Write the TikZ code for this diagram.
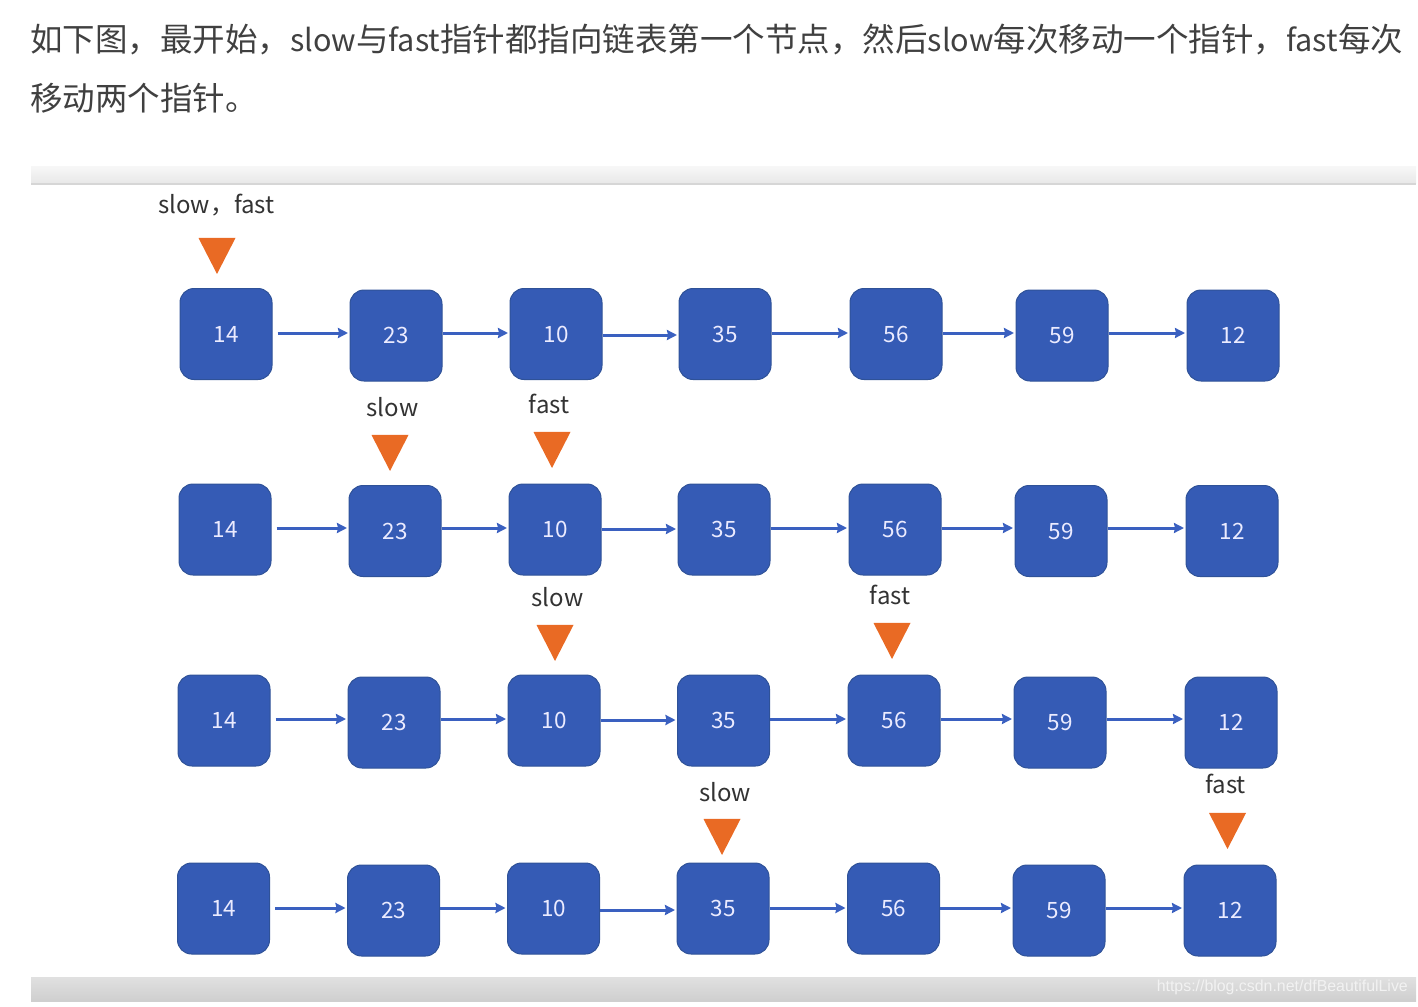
\documentclass[tikz,border=0pt]{standalone}
\usepackage{xcolor}
\usepackage{fontspec}
\setmainfont{Noto Sans CJK SC}
\newfontfamily\markfont{Liberation Sans}
\usetikzlibrary{arrows.meta,shapes.geometric}
\definecolor{boxblue}{HTML}{355BB5}
\definecolor{boxedge}{HTML}{2F5298}
\definecolor{linkblue}{HTML}{3A60C0}
\definecolor{markorange}{HTML}{E96A24}
\newcommand{\latinword}[1]{{\fontsize{30.6}{59}\selectfont #1}}
\tikzset{
	listblock/.style = {
		rectangle,
		minimum width = 92pt,
		minimum height = 91pt,
		inner sep = 0pt,
		rounded corners = 14pt,
		line width = 1pt,
		draw = boxedge,
		fill = boxblue,
		text = white!92!blue,
		font = \fontsize{22.5}{24}\selectfont,
	},
	link/.style = {
		-{Stealth[length = 10pt, width = 10pt, inset = 1pt]},
		line width = 3pt,
		draw = linkblue,
		shorten > = 1.5pt,
	},
	pointer/.style = {
		isosceles triangle,
		isosceles triangle stretches,
		shape border rotate = -90,
		anchor = apex,
		minimum width = 37pt,
		minimum height = 36pt,
		inner sep = 0pt,
		fill = markorange,
	},
	pointerlabel/.style = {
		text = black!80,
		inner sep = 0pt,
		font = \fontsize{24}{28}\selectfont,
	},
}
\begin{document}
\begin{tikzpicture}[x = 1pt, y = -1pt]
	\useasboundingbox (0,0) rectangle (1418,1006);

	\node[anchor = north west, align = left, inner sep = 0pt, text = black!75,
		font = \fontsize{32.5}{59}\selectfont](intro) at (30,24)
		{如下图，最开始，\latinword{slow}与\latinword{fast}指针都指向链表第一个节点，然后\latinword{slow}每次移动一个指针，\latinword{fast}每次\\移动两个指针。};

	% grey bands of the screenshot
	\shade[top color = black!3, bottom color = black!9] (31,166) rectangle (1416,183);
	\fill[black!16] (31,183) rectangle (1416,185);
	\shade[top color = black!12, bottom color = black!19] (31,977) rectangle (1416,1001);
	\node[anchor = east, inner sep = 0pt, text = white!90!gray,
		font = \markfont\fontsize{15.9}{18}\selectfont](watermark) at (1408,987)
		{https://blog.csdn.net/dfBeautifulLive};

	% first row
	\node[listblock](a1) at (226,334){14};
	\node[listblock](a2) at (396,335.5){23};
	\node[listblock](a3) at (556,334){10};
	\node[listblock](a4) at (725,334){35};
	\node[listblock](a5) at (896,334){56};
	\node[listblock](a6) at (1062,335.5){59};
	\node[listblock](a7) at (1233,335.5){12};
	% second row
	\node[listblock](b1) at (225,529.5){14};
	\node[listblock](b2) at (395,531){23};
	\node[listblock](b3) at (555,529.5){10};
	\node[listblock](b4) at (724,529.5){35};
	\node[listblock](b5) at (895,529.5){56};
	\node[listblock](b6) at (1061,531){59};
	\node[listblock](b7) at (1232,531){12};
	% third row
	\node[listblock](c1) at (224,720.5){14};
	\node[listblock](c2) at (394,722.5){23};
	\node[listblock](c3) at (554,720.5){10};
	\node[listblock](c4) at (723.5,720.5){35};
	\node[listblock](c5) at (894,720.5){56};
	\node[listblock](c6) at (1060,722.5){59};
	\node[listblock](c7) at (1231,722.5){12};
	% fourth row
	\node[listblock](d1) at (223.5,908.5){14};
	\node[listblock](d2) at (393.5,910.5){23};
	\node[listblock](d3) at (553.5,908.5){10};
	\node[listblock](d4) at (723,908.5){35};
	\node[listblock](d5) at (893.5,908.5){56};
	\node[listblock](d6) at (1059,910.5){59};
	\node[listblock](d7) at (1230,910.5){12};

	\foreach \row/\ylink/\ymid in {a/333/335, b/528/529, c/719/720, d/908/910}{
		\draw[link, shorten < = 5pt](\row1.east |- 0,\ylink)--(\row2.west |- 0,\ylink);
		\draw[link](\row2.east |- 0,\ylink)--(\row3.west |- 0,\ylink);
		\draw[link](\row3.east |- 0,\ymid)--(\row4.west |- 0,\ymid);
		\draw[link](\row4.east |- 0,\ylink)--(\row5.west |- 0,\ylink);
		\draw[link](\row5.east |- 0,\ylink)--(\row6.west |- 0,\ylink);
		\draw[link](\row6.east |- 0,\ylink)--(\row7.west |- 0,\ylink);
	}

	\node[pointerlabel](both) at (216.5,205){slow，fast};
	\node[pointer](bothmark) at (217,274.5){};

	\node[pointerlabel](slowb) at (392.5,407){slow};
	\node[pointer](slowbmark) at (390,471.5){};
	\node[pointerlabel](fastb) at (549,404){fast};
	\node[pointer](fastbmark) at (552,468.5){};

	\node[pointerlabel](slowc) at (557.5,597){slow};
	\node[pointer](slowcmark) at (555,661.5){};
	\node[pointerlabel](fastc) at (890,595){fast};
	\node[pointer](fastcmark) at (892,659.5){};

	\node[pointerlabel](slowd) at (725,792){slow};
	\node[pointer](slowdmark) at (722,855.5){};
	\node[pointerlabel](fastd) at (1225.5,784){fast};
	\node[pointer](fastdmark) at (1227.5,849.5){};
\end{tikzpicture}
\end{document}
